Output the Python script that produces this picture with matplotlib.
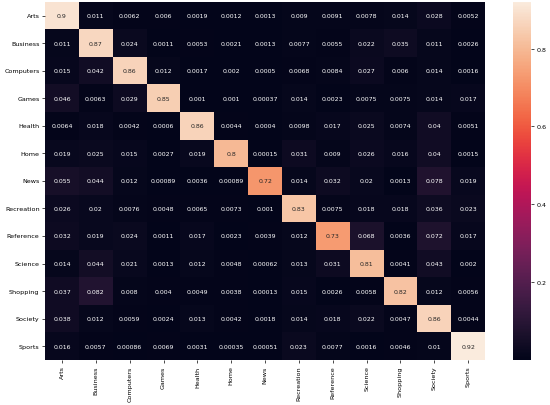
import matplotlib
matplotlib.use("Agg")
import numpy as np
import matplotlib.pyplot as plt
import seaborn as sns

labels = ["Arts", "Business", "Computers", "Games", "Health", "Home", "News",
          "Recreation", "Reference", "Science", "Shopping", "Society", "Sports"]

arts = [0.9, 0.011, 0.0062, 0.006, 0.0019, 0.0012, 0.0013, 0.009, 0.0091, 0.0078, 0.014, 0.028, 0.0052]
business = [0.011, 0.87, 0.024, 0.0011, 0.0053, 0.0021, 0.0013, 0.0077, 0.0055, 0.022, 0.035, 0.011, 0.0026]
computers = [0.015, 0.042, 0.86, 0.012, 0.0017, 0.002, 0.0005, 0.0068, 0.0084, 0.027, 0.006, 0.014, 0.0016]
games = [0.046, 0.0063, 0.029, 0.85, 0.001, 0.001, 0.00037, 0.014, 0.0023, 0.0075, 0.0075, 0.014, 0.017]
health = [0.0064, 0.018, 0.0042, 0.0006, 0.86, 0.0044, 0.0004, 0.0098, 0.017, 0.025, 0.0074, 0.04, 0.0051]
home = [0.019, 0.025, 0.015, 0.0027, 0.019, 0.8, 0.00015, 0.031, 0.009, 0.026, 0.016, 0.04, 0.0015]
news = [0.055, 0.044, 0.012, 0.00089, 0.0036, 0.00089, 0.72, 0.014, 0.032, 0.02, 0.0013, 0.078, 0.019]
recreation = [0.026, 0.02, 0.0076, 0.0048, 0.0065, 0.0073, 0.001, 0.83, 0.0075, 0.018, 0.018, 0.036, 0.023]
reference = [0.032, 0.019, 0.024, 0.0011, 0.017, 0.0023, 0.0039, 0.012, 0.73, 0.068, 0.0036, 0.072, 0.017]
science = [0.014, 0.044, 0.021, 0.0013, 0.012, 0.0048, 0.00062, 0.013, 0.031, 0.81, 0.0041, 0.043, 0.002]
shopping = [0.037, 0.082, 0.008, 0.004, 0.0049, 0.0038, 0.00013, 0.015, 0.0026, 0.0058, 0.82, 0.012, 0.0056]
society = [0.038, 0.012, 0.0059, 0.0024, 0.013, 0.0042, 0.0018, 0.014, 0.018, 0.022, 0.0047, 0.86, 0.0044]
sports = [0.016, 0.0057, 0.00086, 0.0069, 0.0031, 0.00035, 0.00051, 0.023, 0.0077, 0.0016, 0.0046, 0.01, 0.92]

cm = np.array([arts, business, computers, games, health, home, news,
               recreation, reference, science, shopping, society, sports])

fig = plt.figure(figsize=(5.5, 4.06), dpi=100)
ax = fig.add_axes([0.082, 0.111, 0.8, 0.882])
cax = fig.add_axes([0.933, 0.111, 0.032, 0.882])

sns.heatmap(cm, annot=True, xticklabels=labels, yticklabels=labels,
            ax=ax, cbar_ax=cax, annot_kws={"size": 4.5})

ax.tick_params(labelsize=4.6, length=2.5, width=0.5, pad=1.5)
plt.setp(ax.get_xticklabels(), rotation=90)
plt.setp(ax.get_yticklabels(), rotation=0)
cax.tick_params(labelsize=4.6, length=2.5, width=0.5, pad=1.5)
cax.set_yticks([0.2, 0.4, 0.6, 0.8])

fig.savefig("out.png", dpi=100)
